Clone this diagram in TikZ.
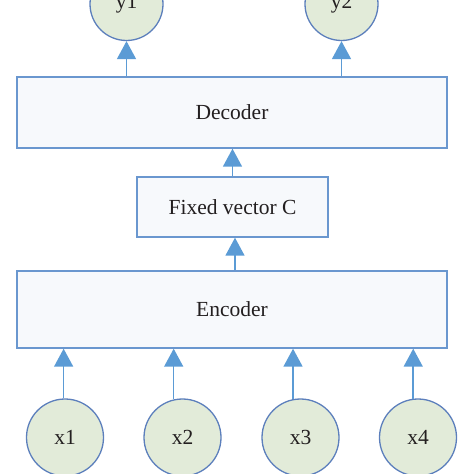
\documentclass[tikz,border=0pt]{standalone}
\usepackage{fontspec}
\setmainfont{Liberation Serif}
\usetikzlibrary{arrows.meta,calc}
\definecolor{lineblue}{HTML}{5B9BD5}
\definecolor{boxedge}{HTML}{6A97CF}
\definecolor{boxfill}{HTML}{F7F9FC}
\definecolor{circedge}{HTML}{5C7FBC}
\definecolor{circfill}{HTML}{E2EBD9}
\definecolor{txt}{HTML}{231F20}
\tikzset{
  blockbox/.style={draw=boxedge, fill=boxfill, line width=1.4pt, inner sep=0pt, text=txt, font=\fontsize{21.5}{25}\selectfont},
  varcirc/.style={circle, draw=circedge, fill=circfill, line width=1.3pt, inner sep=0pt, text=txt, font=\fontsize{21.5}{25}\selectfont},
  arr/.style={draw=lineblue, line width=1.6pt, -{Triangle[width=19pt,length=18pt]}}
}
\begin{document}
\begin{tikzpicture}[x=1pt,y=-1pt]
\useasboundingbox (0,0) rectangle (474,474);
\node[blockbox, minimum width=430pt, minimum height=71pt] (dec) at (232,112.5) {Decoder};
\node[blockbox, minimum width=191pt, minimum height=60pt] (fix) at (232.5,207) {Fixed vector C};
\node[blockbox, minimum width=430pt, minimum height=77pt] (enc) at (232,309.5) {Encoder};
\node[varcirc, minimum size=73pt] (y1) at (126.5,4) {y1};
\node[varcirc, minimum size=73pt] (y2) at (341.5,4) {y2};
\node[varcirc, minimum size=77pt] (x1) at (65,437.5) {x1};
\node[varcirc, minimum size=77pt] (x2) at (182.5,437.5) {x2};
\node[varcirc, minimum size=77pt] (x3) at (300.5,437.5) {x3};
\node[varcirc, minimum size=77pt] (x4) at (418,437.5) {x4};
\draw[arr] (x1.92) -- (x1.92 |- enc.south);
\draw[arr] (x2.103) -- (x2.103 |- enc.south);
\draw[arr] (x3.101) -- (x3.101 |- enc.south);
\draw[arr] (x4.97) -- (x4.97 |- enc.south);
\coordinate (fe) at ($(fix.south)+(2.5,0)$);
\draw[arr] (fe |- enc.north) -- (fe);
\draw[arr] (fix.north) -- (fix.north |- dec.south);
\draw[arr] (y1.south |- dec.north) -- (y1.south);
\draw[arr] (y2.south |- dec.north) -- (y2.south);
\end{tikzpicture}
\end{document}
